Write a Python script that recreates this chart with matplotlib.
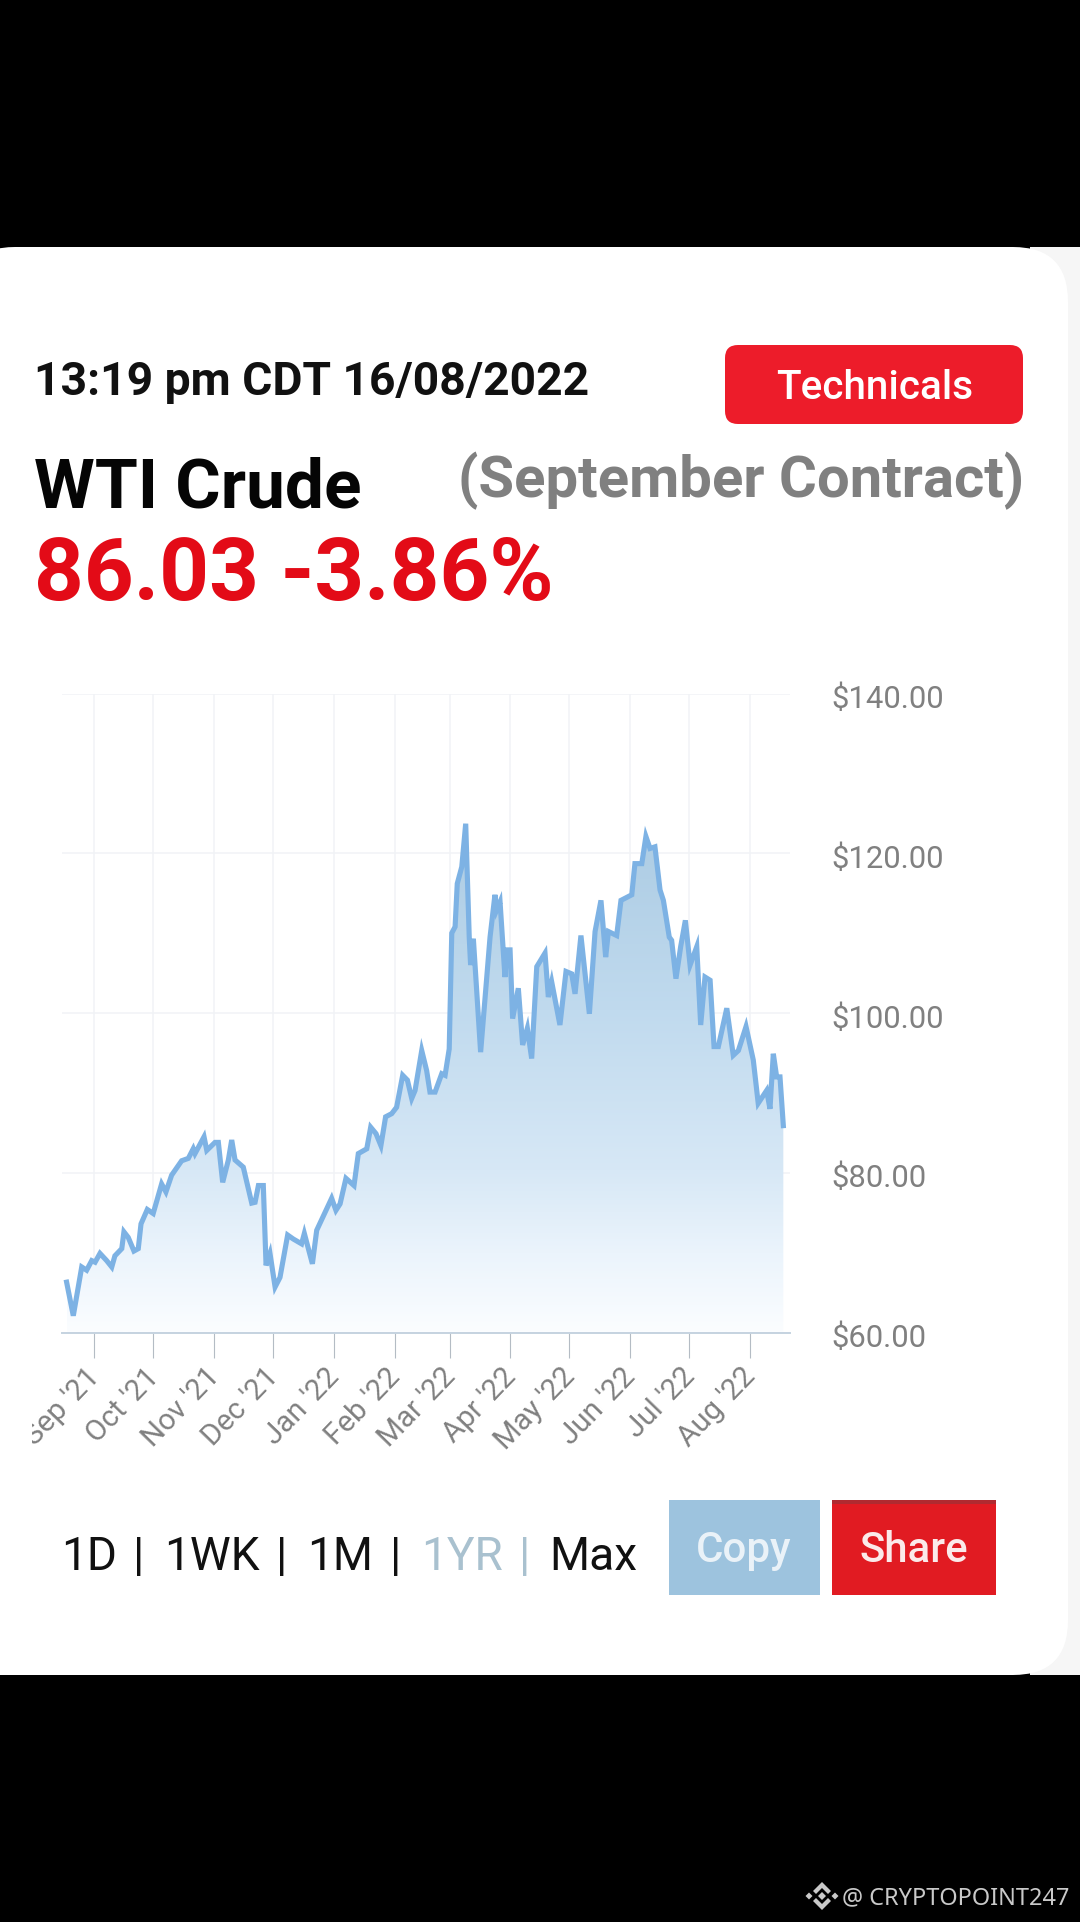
"""WTI Crude quote card: one-year area chart inside a phone screenshot."""

import numpy as np
import matplotlib
matplotlib.use("Agg")
import matplotlib.pyplot as plt
import matplotlib.dates as mdates
from matplotlib.colors import LinearSegmentedColormap
from matplotlib.patches import FancyBboxPatch, Rectangle, Polygon
from matplotlib.transforms import Affine2D, Bbox

plt.rcParams["font.family"] = ["Roboto", "DejaVu Sans"]

# Days since 1 Sep 2021 and the price
START = np.datetime64("2021-09-01")
day_offsets = [
    -14.1, -10.7, -6.4, -3.9, -1.3, 0.4, 2.9, 6.3, 8.9, 10.5, 14, 15.1, 17.3, 20.2, 22.4,
    23.8, 27, 30, 34.3, 36.5, 39.4, 44.5, 47.9, 50.4, 51.3, 55.9, 57.3, 61.5, 63.2, 65.4,
    68.3, 70, 71.7, 75.9, 80.2, 81.9, 83.6, 86.1, 87.5, 89.5, 92.1, 94.6, 98.5, 101.4,
    105.6, 107, 111.1, 113.3, 120.9, 123.1, 125.2, 128.2, 132.3, 134.5, 138.8, 140.8,
    143.5, 146, 148.4, 151.5, 154, 157.1, 159.5, 161.7, 163.4, 166.8, 169.3, 171, 173.6,
    177, 178.7, 180.8, 182.1, 183.8, 184.9, 187.2, 189.2, 191, 191.7, 193.1, 196.8,
    201.6, 204.1, 205, 206.7, 209.2, 210.1, 211.8, 213.1, 216, 218.2, 220.6, 222.8,
    225.4, 229.6, 231.3, 233, 237.2, 240.3, 243.2, 244.9, 247.9, 252.2, 255.1, 258.1,
    260.5, 261.9, 266.1, 268.3, 273.8, 275.4, 278.9, 281, 283.1, 285.6, 288.2, 289.9,
    292.9, 294.1, 296.3, 298.7, 301.1, 303.5, 306.9, 308.9, 311.1, 313.7, 315.7, 317.9,
    322.2, 325.5, 328.1, 332, 335.7, 338.2, 342.5, 344.2, 345.9, 347.6, 349.3, 351,
]
prices = [
    66.3, 62.1, 68.2, 67.8, 69.0, 68.8, 69.9, 69.0, 68.2, 69.6, 70.5, 72.6, 71.9, 70.2, 70.5,
    73.6, 75.4, 74.9, 78.6, 77.6, 79.7, 81.5, 81.8, 83.0, 82.4, 84.5, 82.8, 83.8, 83.8, 78.8,
    81.6, 84.1, 81.6, 80.7, 76.2, 76.3, 78.4, 78.4, 68.4, 69.9, 65.7, 66.9, 72.2, 71.7,
    71.1, 72.4, 68.6, 72.8, 76.8, 75.3, 76.1, 79.3, 78.4, 82.4, 83.0, 85.7,
    84.9, 83.4, 87.0, 87.4, 88.2, 92.2, 91.6, 89.3, 90.3, 95.3, 92.8, 90.1, 90.1,
    92.4, 92.2, 95.5, 110.0, 110.8, 116.2, 118.3, 123.7, 109.5, 106.0, 109.3, 95.1,
    109.5, 114.8, 112.9, 113.9, 104.5, 107.9, 107.9, 99.3, 103.1, 96.0, 98.1, 94.3,
    105.8, 107.5, 102.0, 103.9, 98.5, 105.2, 104.9, 102.4, 109.7, 99.9, 110.2, 114.1,
    107.0, 110.2, 109.7, 114.1, 114.8, 118.7, 118.7, 122.1, 120.6, 120.8, 115.4, 114.1,
    109.5, 109.1, 104.3, 108.3, 111.6, 106.0, 108.3, 98.5, 104.5, 104.1, 95.8, 95.8,
    100.6, 94.7, 95.3, 98.3, 94.1, 88.7, 90.3, 88.0, 94.9, 92.0, 92.0, 85.9,
]
price_ticks = [60, 80, 100, 120, 140]

W, H = 1080, 1922
BLUE_LINE = "#7db2e4"
RED = "#ed1c2a"


def px_font(px):
    # font size in points for an em size in pixels at dpi=100
    return px * 0.72


fig = plt.figure(figsize=(W / 100, H / 100), dpi=100, facecolor="black")

# ── Card and page furniture, drawn in pixel space ────────────────
bg = fig.add_axes([0, 0, 1, 1])
bg.set_xlim(0, W)
bg.set_ylim(H, 0)
bg.axis("off")

bg.add_patch(Rectangle((1030, 247), 50, 1428, facecolor="#f6f6f6", edgecolor="none"))
bg.add_patch(FancyBboxPatch((-40, 247), 1108, 1428, boxstyle="round,pad=0,rounding_size=55",
                            facecolor="white", edgecolor="none"))
bg.add_patch(Rectangle((0, 1600), 100, 75, facecolor="white", edgecolor="none"))

# soft shadow behind the Technicals button
for grow in range(4, 64, 4):
    bg.add_patch(FancyBboxPatch((725 - grow, 345 - grow), 298 + 2 * grow, 79 + 2 * grow,
                                boxstyle=f"round,pad=0,rounding_size={12 + grow}",
                                facecolor="black", alpha=0.0015, edgecolor="none"))
bg.add_patch(FancyBboxPatch((725, 345), 298, 79, boxstyle="round,pad=0,rounding_size=13",
                            facecolor=RED, edgecolor="none"))
bg.text(875, 384, "Technicals", color="white", fontsize=px_font(40.5), fontweight="medium",
        ha="center", va="center_baseline")

bg.text(34, 395, "13:19 pm CDT 16/08/2022", color="#111111", fontsize=px_font(46.3), fontweight="bold")
bg.text(34, 507, "WTI Crude", color="#050505", fontsize=px_font(69.5), fontweight="bold")
bg.text(458, 497, "(September Contract)", color="#808080", fontsize=px_font(58), fontweight="bold")
bg.text(34, 600, "86.03 -3.86%", color="#e30b17", fontsize=px_font(87), fontweight="bold")

# range selector
selector = [("1D", 61, "#111111"), ("|", 133, "#111111"), ("1WK", 164, "#111111"), ("|", 276, "#111111"),
            ("1M", 307, "#111111"), ("|", 390, "#111111"), ("1YR", 421, "#a9c1cf"), ("|", 519, "#a9c1cf"),
            ("Max", 549, "#111111")]
for label, x, colour in selector:
    bg.text(x, 1570, label, color=colour, fontsize=px_font(46))

bg.add_patch(Rectangle((669, 1500), 151, 95, facecolor="#9dc3de", edgecolor="none"))
bg.text(744, 1546, "Copy", color="#eaf2f8", fontsize=px_font(42), fontweight="medium", ha="center", va="center_baseline")
bg.add_patch(Rectangle((832, 1500), 164, 95, facecolor="#e11b22", edgecolor="none"))
bg.add_patch(Rectangle((832, 1500), 164, 4, facecolor="#b02a30", edgecolor="none"))
bg.text(914, 1546, "Share", color="#fbeaea", fontsize=px_font(42), fontweight="medium", ha="center", va="center_baseline")

# watermark with the small diamond logo
LOGO = "#c9c9c9"
for cx, cy, r in [(809, 1896, 3.5), (835, 1896, 3.5), (822, 1896, 4)]:
    bg.add_patch(Polygon([(cx - r, cy), (cx, cy - r), (cx + r, cy), (cx, cy + r)], facecolor=LOGO, edgecolor="none"))
for flip in (1, -1):
    chevron = [(822, 1896 - 14 * flip), (831, 1896 - 5 * flip), (828, 1896 - 2 * flip),
               (822, 1896 - 8 * flip), (816, 1896 - 2 * flip), (813, 1896 - 5 * flip)]
    bg.add_patch(Polygon(chevron, facecolor=LOGO, edgecolor="none"))
bg.text(842, 1904, "@ CRYPTOPOINT247", color=LOGO, fontsize=px_font(23.5), family=["Noto Sans", "DejaVu Sans"])

# ── Chart ────────────────────────────────────────────────────────
left, right, top, bottom = 62, 790, 693.5, 1332.5
ax = fig.add_axes([left / W, 1 - bottom / H, (right - left) / W, (bottom - top) / H])
ax.patch.set_alpha(0)

base = mdates.date2num(START)
x = base + np.array(day_offsets, dtype=float)
y = np.array(prices, dtype=float)

# fill fades from the peak colour to near white at $60
stops = [(0.0, "#fbfdff"), (0.15, "#ebf4fc"), (0.31, "#d7e8f6"), (0.62, "#c0daee"), (1.0, "#abcbe3")]
cmap = LinearSegmentedColormap.from_list("fade", stops)
gradient = np.linspace(1, 0, 256).reshape(-1, 1)
poly = ax.fill_between(x, y, 60, facecolor="none", edgecolor="none")
img = ax.imshow(gradient, extent=(x[0], x[-1], 60, 125), aspect="auto", cmap=cmap, zorder=1)
img.set_clip_path(poly.get_paths()[0], ax.transData)
ax.plot(x, y, color=BLUE_LINE, lw=3.7, solid_joinstyle="miter", zorder=3)

ax.set_xlim(base - 16.45, base + 354.4)
ax.set_ylim(60, 140)

ax.xaxis.set_major_locator(mdates.MonthLocator())
ax.xaxis.set_major_formatter(mdates.DateFormatter("%b '%y"))
ax.yaxis.tick_right()
ax.set_yticks(price_ticks)
ax.set_yticklabels([f"${p:.2f}" for p in price_ticks])
ax.grid(True, color="#f1f3f6", lw=1.1)
ax.set_axisbelow(True)

for side in ("top", "left", "right"):
    ax.spines[side].set_visible(False)
ax.spines["bottom"].set_color("#c5d3e0")
ax.spines["bottom"].set_linewidth(1.4)

ax.tick_params(axis="y", length=0, pad=30, labelsize=px_font(31), labelcolor="#808080")
ax.tick_params(axis="x", length=18, width=0.8, color="#b4bcc4", pad=3, labelsize=px_font(29.5), labelcolor="#808080")

clip = Bbox.from_extents(32, 0, W, H)
for label in ax.get_xticklabels():
    label.set_rotation(46)
    label.set_ha("right")
    label.set_rotation_mode("anchor")
    label.set_transform(label.get_transform() + Affine2D().translate(-9, -1))
    label.set_clip_box(clip)
    label.set_clip_on(True)
for label in ax.get_yticklabels():
    label.set_va("center_baseline")
    label.set_transform(label.get_transform() + Affine2D().translate(0, -3))

fig.savefig("out.png", dpi=100, facecolor="black")
